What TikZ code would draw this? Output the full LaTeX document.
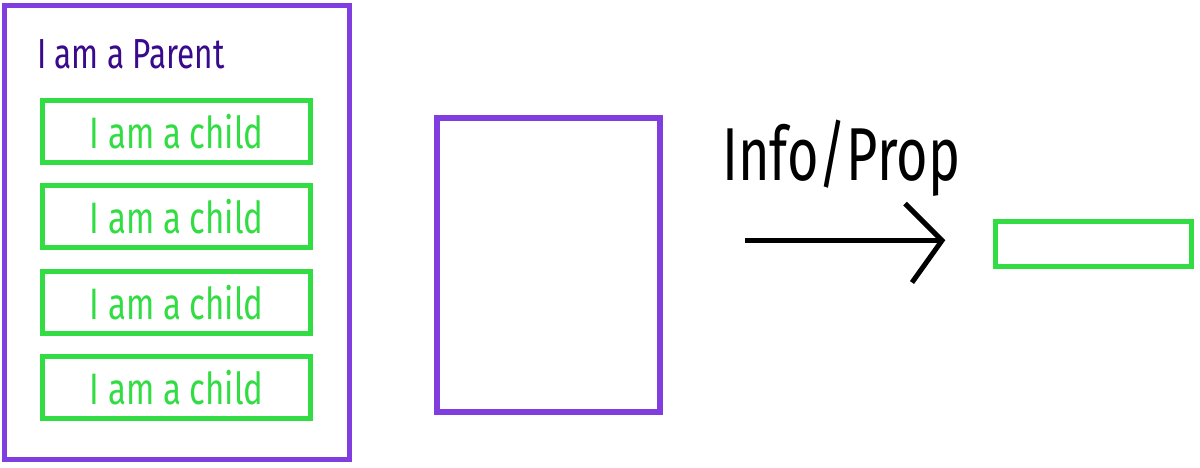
\documentclass[tikz,border=0pt]{standalone}
\usepackage{fontspec}
\setmainfont{Fira Sans}
\newfontfamily\hand[FakeStretch=0.75]{Fira Sans}
\newfontfamily\handw[FakeStretch=0.72]{Fira Sans}
\definecolor{purp}{RGB}{128,62,224}
\definecolor{kid}{RGB}{50,221,68}
\definecolor{ptext}{RGB}{58,10,140}
\begin{document}
\begin{tikzpicture}[x=1pt,y=-1pt,
  parentbox/.style={draw=purp, line width=5pt, rectangle, inner sep=0pt, fill=white},
  childbox/.style={draw=kid, line width=5pt, rectangle, inner sep=0pt,
    minimum width=268pt, minimum height=62pt, text=kid,
    font=\hand\fontsize{44}{50}\selectfont},
  lbl/.style={inner sep=0pt, anchor=base west},
  flow/.style={draw=black, line width=5pt},
  chevron/.style={draw=black, line width=5pt, line join=miter}
]
\useasboundingbox (0,0) rectangle (1200,467);
\fill[white] (0,0) rectangle (1200,467);
% parent
\node[parentbox, minimum width=345pt, minimum height=454pt] (parent) at (177,232.5) {};
\node[lbl, text=ptext, font=\hand\fontsize{42}{48}\selectfont] (ptitle) at (37,68) {I am a Parent};
\node[childbox] (c1) at (176.5,131.5) {I am a child};
\node[childbox] (c2) at (176.5,216.8) {I am a child};
\node[childbox] (c3) at (176.5,302.2) {I am a child};
\node[childbox] (c4) at (176.5,387.5) {I am a child};
% middle empty parent
\node[parentbox, line width=6pt, minimum width=223pt, minimum height=294pt] (mid) at (548.5,265) {};
% label and arrow
\node[lbl, text=black, font=\handw\fontsize{75}{84}\selectfont] (info) at (722,180) {Info/Prop};
\coordinate (as) at (745,240.5);
\coordinate (ae) at (942,240.5);
\draw[flow] (as) -- (ae);
\draw[chevron] (ae) ++(-37,-37) -- (ae) -- ++(-30,42);
% lone child
\node[draw=kid, line width=5pt, rectangle, inner sep=0pt, minimum width=196pt, minimum height=45pt] (lone) at (1093.5,244) {};
\end{tikzpicture}
\end{document}
